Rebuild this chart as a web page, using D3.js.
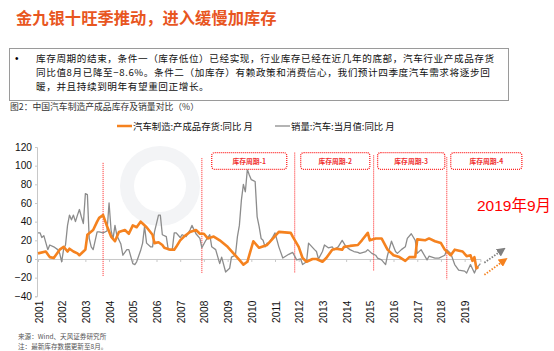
<!DOCTYPE html>
<html lang="zh">
<head>
<meta charset="UTF-8">
<title>金九银十旺季推动，进入缓慢加库存</title>
<script src="https://d3js.org/d3.v7.min.js"></script>
<style>
  html, body { margin: 0; padding: 0; background: #fff; }
  svg { display: block; font-family: "Liberation Sans", "Noto Sans CJK SC", sans-serif; }
  .cjk { font-family: "Noto Sans CJK SC", "Liberation Sans", sans-serif; }
  .num { font-family: "Liberation Sans", "Noto Sans CJK SC", sans-serif; }
</style>
</head>
<body>
<svg id="chart" width="554" height="351"></svg>
<script>
// 汽车制造:产成品存货:同比 (%)
const inventoryYoY = [
  ["2001-01", 6], ["2001-05", 8], ["2001-07", 2], ["2001-09", 1], ["2001-12", 10],
  ["2002-02", 13], ["2002-04", 8], ["2002-05", 11], ["2002-07", 8], ["2002-09", 6],
  ["2002-10", 4], ["2002-12", 8], ["2003-01", 10], ["2003-02", 26], ["2003-05", 31],
  ["2003-07", 40], ["2003-08", 44], ["2003-10", 47], ["2003-12", 35], ["2004-02", 24],
  ["2004-04", 19], ["2004-06", 29], ["2004-09", 31], ["2004-11", 27], ["2005-01", 36],
  ["2005-03", 34], ["2005-05", 40], ["2005-06", 38], ["2005-08", 34], ["2005-11", 26],
  ["2005-12", 17], ["2006-02", 18], ["2006-04", 15], ["2006-05", 12], ["2006-08", 10],
  ["2006-10", 10], ["2006-11", 13], ["2007-01", 20], ["2007-03", 24], ["2007-06", 29],
  ["2007-09", 31], ["2007-11", 27], ["2008-01", 27], ["2008-03", 22], ["2008-06", 24],
  ["2008-09", 20], ["2009-01", 13], ["2009-04", 6], ["2009-07", -1], ["2009-09", -6],
  ["2009-11", -3], ["2010-02", 19], ["2010-05", 12], ["2010-09", 15], ["2010-12", 22],
  ["2011-03", 29], ["2011-09", 28], ["2011-10", 24], ["2012-01", 13], ["2012-03", 1],
  ["2012-05", -3], ["2012-08", 0], ["2012-10", 0], ["2013-01", -3], ["2013-03", 1],
  ["2013-06", 10], ["2013-08", 11], ["2013-11", 10], ["2013-12", 13], ["2014-03", 14],
  ["2014-07", 15], ["2014-09", 20], ["2014-12", 28], ["2015-01", 20], ["2015-04", 22],
  ["2015-07", 22], ["2015-10", 10], ["2016-01", 4], ["2016-04", 2], ["2016-07", -2],
  ["2016-09", 2], ["2016-12", 2], ["2017-01", 21], ["2017-05", 20], ["2017-07", 22],
  ["2017-10", 19], ["2018-01", 17], ["2018-03", 10], ["2018-06", 4], ["2018-08", 10],
  ["2018-12", 8], ["2019-02", 3], ["2019-04", 4], ["2019-05", -2], ["2019-06", 2],
  ["2019-07", -10], ["2019-08", -8.6]
];

// 销量:汽车:当月值:同比 (%)
const salesYoY = [
  ["2001-01", 28], ["2001-02", 28], ["2001-03", 23], ["2001-04", 25], ["2001-06", 10],
  ["2001-07", 15], ["2001-09", 13], ["2001-11", 10], ["2001-12", 6], ["2002-01", -3],
  ["2002-02", 11], ["2002-03", 15], ["2002-04", 36], ["2002-05", 47], ["2002-06", 42],
  ["2002-07", 47], ["2002-08", 40], ["2002-09", 47], ["2002-10", 53], ["2002-11", 45],
  ["2002-12", 38], ["2003-01", 70], ["2003-02", 69], ["2003-03", 22], ["2003-04", 13],
  ["2003-05", 10], ["2003-07", 29], ["2003-08", 29], ["2003-10", 28], ["2003-12", 30],
  ["2004-01", 60], ["2004-02", 31], ["2004-03", 21], ["2004-04", 36], ["2004-05", 25],
  ["2004-07", 16], ["2004-08", 4], ["2004-10", 10], ["2004-11", 10], ["2005-01", -5],
  ["2005-02", -6], ["2005-03", -3], ["2005-05", 9], ["2005-06", 17], ["2005-07", 35],
  ["2005-08", 17], ["2005-10", 13], ["2005-11", 13], ["2005-12", 29], ["2006-02", 47],
  ["2006-03", 47], ["2006-04", 26], ["2006-06", 24], ["2006-07", 10], ["2006-09", 10],
  ["2006-10", 28], ["2006-11", 28], ["2007-01", 23], ["2007-02", 26], ["2007-04", 24],
  ["2007-06", 31], ["2007-07", 36], ["2007-09", 27], ["2007-11", 22], ["2007-12", 12],
  ["2008-02", 20], ["2008-04", 26], ["2008-05", 13], ["2008-07", 10], ["2008-09", -5],
  ["2008-10", 2], ["2008-12", -14], ["2009-02", -10], ["2009-03", 2], ["2009-05", 4],
  ["2009-06", 24], ["2009-07", 36], ["2009-08", 63], ["2009-09", 80], ["2009-10", 72],
  ["2009-11", 96], ["2009-12", 90], ["2010-01", 85], ["2010-02", 84], ["2010-03", 83],
  ["2010-04", 45], ["2010-05", 35], ["2010-06", 22], ["2010-07", 20], ["2010-08", 13],
  ["2010-09", 17], ["2010-10", 17], ["2010-12", 24], ["2011-01", 28], ["2011-03", 13],
  ["2011-05", 1], ["2011-08", 5], ["2011-10", 7], ["2011-12", -1], ["2012-02", 0],
  ["2012-03", -6], ["2012-05", -3], ["2012-06", 17], ["2012-09", 10], ["2012-10", 8],
  ["2012-11", 0], ["2013-01", 8], ["2013-02", 15], ["2013-04", 12], ["2013-06", 13],
  ["2013-07", 10], ["2013-09", 13], ["2013-11", 20], ["2014-01", 13], ["2014-03", 10],
  ["2014-05", 8], ["2014-07", 7], ["2014-08", 6], ["2014-11", 8], ["2014-12", 10],
  ["2015-02", 6], ["2015-04", 4], ["2015-05", 1], ["2015-07", -1], ["2015-09", -6],
  ["2015-10", 4], ["2015-12", 19], ["2016-02", 8], ["2016-03", 6], ["2016-05", 10],
  ["2016-07", 13], ["2016-08", 22], ["2016-10", 27], ["2016-12", 20], ["2017-01", 6],
  ["2017-03", 10], ["2017-06", -1], ["2017-07", 3], ["2017-10", 1], ["2017-12", 1],
  ["2018-03", 4], ["2018-04", 10], ["2018-06", 6], ["2018-08", -6], ["2018-10", -12],
  ["2019-01", -13], ["2019-02", -15], ["2019-04", -6], ["2019-06", -15], ["2019-07", -10],
  ["2019-09", -5]
];

const yTicks = [-40, -20, 0, 20, 40, 60, 80, 100, 120];
const yearTicks = d3.range(2001, 2020);

// 库存周期 boundaries: [date, top value, bottom value]
const cycleLines = [
  ["2003-10", 103, -19], ["2007-12", 108, -15], ["2011-11", 114, -15],
  ["2015-03", 111, -13], ["2018-04", 109, -22]
];
// 库存周期 labels: [label, start, end]
const cycleLabels = [
  ["库存周期-1", "2008-05", "2011-07"], ["库存周期-2", "2012-02", "2015-01"],
  ["库存周期-3", "2015-05", "2018-03"], ["库存周期-4", "2018-06", "2021-06"]
];
// forecast arrows: [from date, from value, to date, to value]
const salesArrow = ["2019-11", -4, "2020-09", 11];
const inventoryArrow = ["2019-11", -17, "2020-10", 0];

const parse = d3.timeParse("%Y-%m");
const svg = d3.select("#chart");

const x = d3.scaleTime()
  .domain([new Date(2001, 0, 1), new Date(2019, 8, 1)])
  .range([38, 480.4]);
const y = d3.scaleLinear().domain([-40, 120]).range([296.3, 147]);

// watermark (faint logo)
const wm = svg.append("g").attr("fill", "#f3f4f6");
wm.append("circle").attr("cx", 160).attr("cy", 186).attr("r", 40);
wm.append("circle").attr("cx", 160).attr("cy", 186).attr("r", 26).attr("fill", "#fff");

// title
svg.append("text").attr("class", "cjk")
  .attr("x", 16).attr("y", 24)
  .attr("font-size", 16.3).attr("font-weight", "bold").attr("fill", "#E8561F")
  .text("金九银十旺季推动，进入缓慢加库存");

// summary box
svg.append("rect").attr("x", 9.5).attr("y", 48.5).attr("width", 499).attr("height", 52)
  .attr("fill", "none").attr("stroke", "#9a9a9a");
svg.append("text").attr("x", 15).attr("y", 62).attr("font-size", 10).text("•");
const lines = [
  "库存周期的结束，条件一（库存低位）已经实现，行业库存已经在近几年的底部，汽车行业产成品存货",
  "同比值8月已降至−8.6%。条件二（加库存）有赖政策和消费信心，我们预计四季度汽车需求将逐步回",
  "暖，并且持续到明年有望重回正增长。"
];
svg.append("g").selectAll("text").data(lines).join("text")
  .attr("class", "cjk")
  .attr("x", 36).attr("y", (d, i) => 62 + i * 14)
  .attr("font-size", 9.6).attr("letter-spacing", 0.6).attr("fill", "#111")
  .text(d => d);

// caption
svg.append("text").attr("class", "cjk")
  .attr("x", 10).attr("y", 110)
  .attr("font-size", 8.8).attr("fill", "#333")
  .text("图2：中国汽车制造产成品库存及销量对比（%）");

// legend
const legend = svg.append("g").attr("class", "cjk").attr("font-size", 9.4).attr("fill", "#111");
legend.append("line").attr("x1", 117).attr("x2", 132).attr("y1", 126).attr("y2", 126)
  .attr("stroke", "#F5821F").attr("stroke-width", 2.5);
legend.append("text").attr("x", 133).attr("y", 129.5).text("汽车制造:产成品存货:同比 月");
legend.append("line").attr("x1", 275).attr("x2", 290).attr("y1", 126).attr("y2", 126)
  .attr("stroke", "#8c8c8c").attr("stroke-width", 1.3);
legend.append("text").attr("x", 291).attr("y", 129.5).text("销量:汽车:当月值:同比 月");

// y axis
const yAxis = svg.append("g").attr("transform", "translate(37,0)")
  .call(d3.axisLeft(y).tickValues(yTicks).tickSize(2).tickPadding(3));
yAxis.select(".domain").attr("stroke", "#c8c8c8");
yAxis.selectAll(".tick line").attr("stroke", "#c8c8c8");
yAxis.selectAll(".tick text").attr("font-size", 10.2).attr("fill", "#111")
  .attr("font-family", "Liberation Sans, sans-serif");

// x axis on zero line
const xAxis = svg.append("g").attr("transform", `translate(0,${y(0)})`)
  .call(d3.axisBottom(x).tickValues(yearTicks.map(v => new Date(v, 0, 1)))
    .tickSize(3).tickFormat(""));
xAxis.select(".domain").attr("stroke", "#c8c8c8");
xAxis.selectAll(".tick line").attr("stroke", "#c8c8c8");

svg.append("g").selectAll("text").data(yearTicks).join("text")
  .attr("transform", d => `translate(${x(new Date(d, 0, 1)) + 1},312) rotate(-90)`)
  .attr("text-anchor", "middle").attr("dominant-baseline", "central")
  .attr("font-size", 10.2).attr("fill", "#111")
  .text(d => d);

// cycle boundaries
svg.append("g").selectAll("line").data(cycleLines).join("line")
  .attr("x1", d => x(parse(d[0]))).attr("x2", d => x(parse(d[0])))
  .attr("y1", d => y(d[1])).attr("y2", d => y(d[2]))
  .attr("stroke", "#FF2020").attr("stroke-width", 1).attr("stroke-dasharray", "1,1");

// series lines
const line = d3.line().x(d => x(parse(d[0]))).y(d => y(d[1]));
svg.append("path").datum(salesYoY)
  .attr("fill", "none").attr("stroke", "#8c8c8c").attr("stroke-width", 1.3)
  .attr("stroke-linejoin", "round").attr("d", line);
svg.append("path").datum(inventoryYoY)
  .attr("fill", "none").attr("stroke", "#F5821F").attr("stroke-width", 2.6)
  .attr("stroke-linejoin", "round").attr("d", line);

// cycle label boxes
const boxes = svg.append("g").selectAll("g").data(cycleLabels).join("g");
boxes.append("rect")
  .attr("x", d => x(parse(d[1]))).attr("width", d => x(parse(d[2])) - x(parse(d[1])))
  .attr("y", y(114)).attr("height", y(96) - y(114))
  .attr("rx", 3).attr("fill", "#fff")
  .attr("stroke", "#FF2020").attr("stroke-width", 1.3).attr("stroke-dasharray", "1,1");
boxes.append("text").attr("class", "cjk")
  .attr("x", d => (x(parse(d[1])) + x(parse(d[2]))) / 2).attr("y", y(105))
  .attr("text-anchor", "middle").attr("dominant-baseline", "central")
  .attr("font-size", 6.8).attr("font-weight", "bold").attr("fill", "#F03030")
  .text(d => d[0]);

// forecast arrows
const defs = svg.append("defs");
[["arrGray", "#7f7f7f"], ["arrOrange", "#F5821F"]].forEach(([id, c]) => {
  defs.append("marker").attr("id", id).attr("viewBox", "0 0 10 10")
    .attr("refX", 8).attr("refY", 5).attr("markerWidth", 5).attr("markerHeight", 5)
    .attr("orient", "auto")
    .append("path").attr("d", "M0,0L10,5L0,10z").attr("fill", c);
});
[[salesArrow, "#7f7f7f", "arrGray"], [inventoryArrow, "#F5821F", "arrOrange"]].forEach(([a, c, m]) => {
  svg.append("line")
    .attr("x1", x(parse(a[0]))).attr("y1", y(a[1]))
    .attr("x2", x(parse(a[2]))).attr("y2", y(a[3]))
    .attr("stroke", c).attr("stroke-width", 1.8).attr("stroke-dasharray", "1.5,1.5")
    .attr("marker-end", `url(#${m})`);
});

// date annotation
svg.append("text").attr("class", "num")
  .attr("x", 477).attr("y", 211)
  .attr("font-size", 15.5).attr("fill", "#FF0000")
  .text("2019年9月");

// footer
const foot = svg.append("g").attr("class", "cjk").attr("font-size", 6.6).attr("fill", "#555");
foot.append("text").attr("x", 18).attr("y", 339).text("来源：Wind、天风证券研究所");
foot.append("text").attr("x", 18).attr("y", 348.7).text("注：最新库存数据更新至8月。");
</script>
</body>
</html>
